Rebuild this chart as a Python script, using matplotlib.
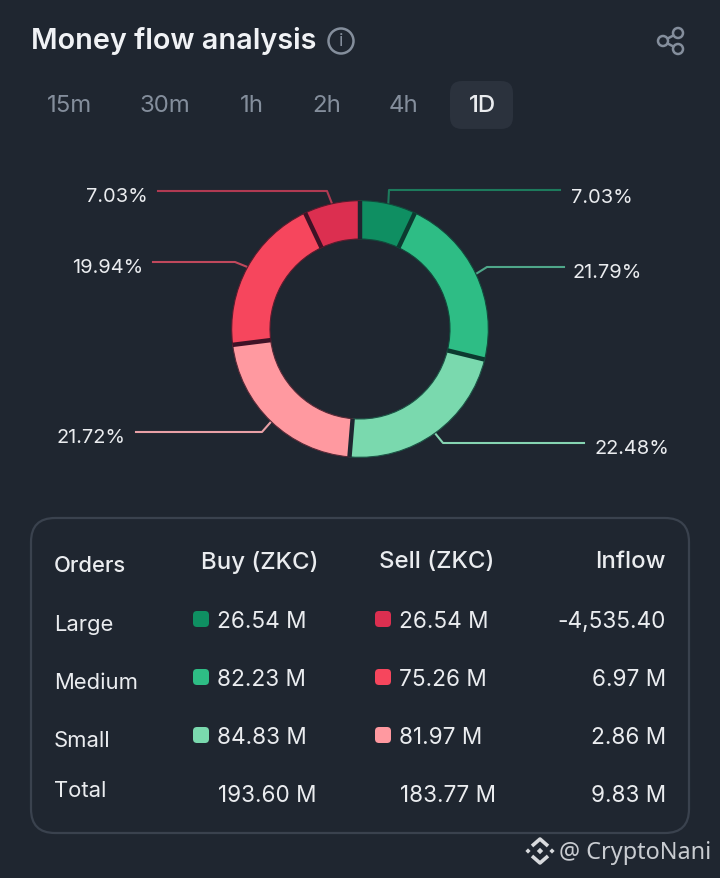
#!/usr/bin/env python3
"""Money flow analysis card: donut of order flow plus the table below it."""
import numpy as np
import matplotlib

matplotlib.use("Agg")
import matplotlib.pyplot as plt  # noqa: E402
from matplotlib.patches import Circle, FancyBboxPatch, Polygon  # noqa: E402

# slices run clockwise from 12 o'clock
slice_labels = ["7.03%", "21.79%", "22.48%", "21.72%", "19.94%", "7.03%"]
slice_values = [7.03, 21.79, 22.48, 21.72, 19.94, 7.03]

intervals = ["15m", "30m", "1h", "2h", "4h", "1D"]
order_rows = ["Large", "Medium", "Small", "Total"]
buy_values = ["26.54 M", "82.23 M", "84.83 M", "193.60 M"]
sell_values = ["26.54 M", "75.26 M", "81.97 M", "183.77 M"]
inflow_values = ["-4,535.40", "6.97 M", "2.86 M", "9.83 M"]

BG = "#1f2630"
W, H = 720, 878
FONT = "Inter"
TEXT = "#eaecef"
MUTED = "#848e9c"
slice_colors = ["#0f8f62", "#2ebd85", "#7ad9ae", "#ff99a0", "#f6465d", "#dc2f50"]
edge_colors = ["#124a3c", "#124a3c", "#1c5546", "#5a2a38", "#5a1c2e", "#5a1c2e"]
sep_colors = ["#0c3a30", "#0c3a30", "#1f2630", "#3f1226", "#3f1226", "#1f2630"]
line_colors = ["#1d7a5c", "#4fa78a", "#86d4b2", "#e8a0a6", "#c0485c", "#b03a52"]


def px(size):
    # font size given in image pixels
    return size * 0.72


# the extra bit keeps the height from rounding down to 877
fig = plt.figure(figsize=(W / 100, (H + 0.01) / 100), dpi=100, facecolor=BG)

# overlay in image pixels, y down
ax = fig.add_axes([0, 0, 1, 1])
ax.set_xlim(0, W)
ax.set_ylim(H, 0)
ax.axis("off")

# donut
cx, cy, r_out = 360, 329, 128.3
r_in = 90
pie_ax = fig.add_axes([(cx - r_out) / W, 1 - (cy + r_out) / H, 2 * r_out / W, 2 * r_out / H])
wedges, _ = pie_ax.pie(
    slice_values,
    colors=slice_colors,
    startangle=90,
    counterclock=False,
    radius=1.0,
    wedgeprops={"width": (r_out - r_in) / r_out, "linewidth": 0.8},
)
for wedge, edge in zip(wedges, edge_colors):
    wedge.set_edgecolor(edge)
    wedge.set_clip_on(False)
pie_ax.set_xlim(-1, 1)
pie_ax.set_ylim(-1, 1)
pie_ax.patch.set_alpha(0)

# thicker dark gaps where slices meet, on the end angle of each slice
for wedge, color in zip(wedges, sep_colors):
    end = np.deg2rad(wedge.theta1)
    pie_ax.plot([r_in / r_out * np.cos(end), np.cos(end)], [r_in / r_out * np.sin(end), np.sin(end)],
                color=color, lw=3.2, solid_capstyle="butt", zorder=5, clip_on=False)

# leader lines: elbow and end in pixels, start taken from the slice angle
elbows = [(389, 190), (487, 267), (443, 443), (262, 432), (235, 262), (327, 191)]
line_ends = [560, 564, 584, 136, 153, 158]
label_x = [571, 573, 594, 126, 143, 148]
label_y = [197, 272, 448, 437, 267, 196]
for i, wedge in enumerate(wedges):
    theta = np.deg2rad((wedge.theta1 + wedge.theta2) / 2)
    x0 = cx + (r_out + 1) * np.cos(theta)
    y0 = cy - (r_out + 1) * np.sin(theta)
    ex, ey = elbows[i]
    ax.plot([x0, ex, line_ends[i]], [y0, ey, ey], color=line_colors[i], lw=1.5,
            solid_joinstyle="round")
    ax.text(label_x[i], label_y[i] + 0.5, slice_labels[i], color=TEXT, fontsize=px(20), family=FONT,
            ha="left" if i < 3 else "right", va="center")

# header
ax.text(31, 41, "Money flow analysis", color="#f0f2f5", fontsize=px(28.8), family=FONT,
        fontweight="semibold", ha="left", va="center")
ax.add_patch(Circle((341, 41), 12.5, fill=False, ec=MUTED, lw=1.8))
ax.text(341, 41.5, "i", color=MUTED, fontsize=px(18), family=FONT, ha="center", va="center")

# share icon
nodes = [(678, 33), (663, 41), (678, 49)]
ax.plot([n[0] for n in nodes], [n[1] for n in nodes], color=MUTED, lw=1.8)
for n in nodes:
    ax.add_patch(Circle(n, 5, fc=BG, ec=MUTED, lw=1.8, zorder=3))

# interval tabs
ax.add_patch(FancyBboxPatch((458, 89), 47, 32, boxstyle="round,pad=8,rounding_size=12",
                            fc="#2b323d", ec="none"))
tab_x = [70, 165, 252, 327, 403, 482]
for x, name in zip(tab_x, intervals):
    ax.text(x, 106, name, color=TEXT if name == "1D" else MUTED, fontsize=px(24), family=FONT,
            fontweight="medium" if name == "1D" else "normal", ha="center", va="center")

# table box
ax.add_patch(FancyBboxPatch((31, 518), 658, 315, boxstyle="round,pad=0,rounding_size=24",
                            fc="none", ec="#3a424e", lw=1.6))

header_size = px(24)
ax.text(54, 566, "Orders", color=TEXT, fontsize=px(22), family=FONT, fontweight="medium", va="center")
ax.text(201, 562, "Buy (ZKC)", color=TEXT, fontsize=header_size, family=FONT, fontweight="medium", va="center")
ax.text(379, 562, "Sell (ZKC)", color=TEXT, fontsize=header_size, family=FONT, fontweight="medium", va="center")
ax.text(666, 562, "Inflow", color=TEXT, fontsize=header_size, family=FONT, fontweight="medium",
        va="center", ha="right")

row_label_y = [625, 683, 741, 791]
row_y = [622, 680, 738, 796]
cell_size = px(22.6)
for i, name in enumerate(order_rows):
    ax.text(54, row_label_y[i], name, color=TEXT, fontsize=px(22), family=FONT, va="center")
    ax.text(666, row_y[i], inflow_values[i], color=TEXT, fontsize=cell_size, family=FONT,
            va="center", ha="right")
    if name == "Total":
        ax.text(218, row_y[i], buy_values[i], color=TEXT, fontsize=cell_size, family=FONT, va="center")
        ax.text(400, row_y[i], sell_values[i], color=TEXT, fontsize=cell_size, family=FONT, va="center")
        continue
    ax.text(217, row_y[i], buy_values[i], color=TEXT, fontsize=cell_size, family=FONT, va="center")
    ax.text(399, row_y[i], sell_values[i], color=TEXT, fontsize=cell_size, family=FONT, va="center")
    # swatches share the slice colours: buy from the start, sell from the end
    for x, color in [(193, slice_colors[i]), (375, slice_colors[5 - i])]:
        ax.add_patch(FancyBboxPatch((x + 3, row_y[i] - 8), 10, 10,
                                    boxstyle="round,pad=3,rounding_size=4", fc=color, ec="none"))

# watermark
logo_c = (540, 851)
for dx, dy, s in [(-12, 0, 2.6), (12, 0, 2.6), (0, 0, 3.2)]:
    x, y = logo_c[0] + dx, logo_c[1] + dy
    ax.add_patch(Polygon([(x - s, y), (x, y - s), (x + s, y), (x, y + s)], fc="#d8dadd", ec="none"))
for sy in (-1, 1):
    x, y = logo_c
    ax.plot([x - 8, x, x + 8], [y + sy * 5, y + sy * 12, y + sy * 5], color="#d8dadd", lw=2.6,
            solid_capstyle="butt")
ax.text(559, 853, "@ CryptoNani", color="#c9ccd1", fontsize=px(23.5), family="Noto Sans", va="center")

fig.savefig("out.png", dpi=100, facecolor=BG)
